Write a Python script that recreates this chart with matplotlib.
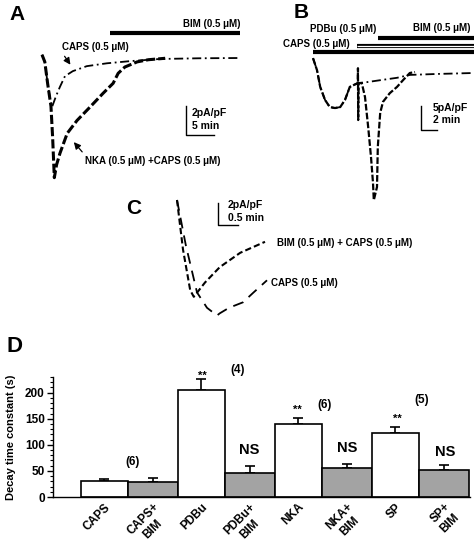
import matplotlib
matplotlib.use("Agg")
import matplotlib.pyplot as plt
import numpy as np

plt.rcParams['font.family'] = ['Liberation Sans', 'DejaVu Sans']
plt.rcParams['font.weight'] = 'bold'

W, H = 474, 549

# ---------------- data ----------------
# Panel A (time in min, current in pA/pF)
tA_caps = [0, 0.5, 1.0, 1.5, 1.8, 2.5, 3.2, 4.1, 5.5, 8.0, 11.6, 15.7, 21.0, 28.0, 35.4]
iA_caps = [0.3, -0.2, -1.7, -2.9, -3.35, -2.6, -1.95, -1.2, -0.85, -0.5, -0.3, -0.15, 0.0, 0.05, 0.07]
tA_nka = [0, 0.5, 1.0, 1.6, 1.9, 2.2, 2.6, 3.2, 4.5, 6.25, 8.6, 10.9, 12.7, 13.6, 14.8, 17.0, 19.0, 22.0]
iA_nka = [0.3, -0.2, -1.7, -3.3, -5.5, -8.3, -7.4, -6.6, -5.2, -4.3, -3.35, -2.4, -1.7, -1.0, -0.56, -0.2, -0.05, 0.05]
A_bim = (12.1, 35.4)

# Panel B
tB_caps = [0, 0.5, 0.9, 1.5, 2.1, 2.75, 3.4, 4.0, 4.6, 5.6, 6.75, 8.4, 10.5, 12.1, 15.5, 20.1]
iB_caps = [3.1, 0.6, -2.9, -5.6, -7.1, -7.3, -7.1, -5.6, -2.9, -2.1, -1.9, -1.5, -1.0, -0.4, -0.2, 0.0]
tB_pdbu = [0, 0.5, 0.9, 1.5, 2.1, 2.75, 3.4, 4.0, 4.6, 5.6, 5.62, 5.65, 5.7, 6.1, 6.5, 6.9,
           7.25, 7.5, 7.6, 8.0, 8.1, 8.4, 8.75, 9.6, 10.5, 11.25, 12.1, 12.75]
iB_pdbu = [3.1, 0.6, -2.9, -5.6, -7.1, -7.3, -7.1, -5.6, -2.9, -2.1, 1.0, -9.8, -2.1, -2.1, -5.0, -11.3,
           -17.5, -22.9, -26.5, -23.75, -15.4, -8.3, -6.0, -4.2, -2.9, -1.5, 0.0, 0.2]
B_caps = (0.0, 20.1)
B_pdbu = (5.5, 20.1)
B_bim = (8.1, 20.1)

# Panel C
tC_bim = [0, 0.15, 0.33, 0.42, 0.7, 1.07, 1.58, 2.2]
iC_bim = [0, -4.5, -8.2, -8.8, -7.5, -6.1, -4.8, -3.8]
tC_caps = [0, 0.22, 0.5, 0.75, 1.0, 1.07, 1.3, 1.65, 1.9, 2.25]
iC_caps = [0, -4.1, -8.4, -9.8, -10.5, -10.3, -9.8, -9.3, -8.45, -7.3]

# Panel D
categories = ['CAPS', 'CAPS+\nBIM', 'PDBu', 'PDBu+\nBIM', 'NKA', 'NKA+\nBIM', 'SP', 'SP+\nBIM']
decay = [31, 29, 206, 46, 140, 55, 122, 52]
decay_err = [3, 7, 21, 13, 12, 9, 13, 10]
n_labels = ['(6)', '(4)', '(6)', '(5)']
sig_labels = ['**', '**', '**']

# ---------------- figure ----------------
fig = plt.figure(figsize=(W / 100, H / 100), dpi=100)


def trace_axes(box, origin, scale):
    left, top, right, bottom = box
    ax = fig.add_axes([left / W, 1 - bottom / H, (right - left) / W, (bottom - top) / H])
    ox, oy = origin
    sx, sy = scale
    ax.set_xlim((left - ox) / sx, (right - ox) / sx)
    ax.set_ylim(-(bottom - oy) / sy, -(top - oy) / sy)
    ax.axis('off')
    return ax


def ftext(x, y, s, size=7, **kw):
    kw.setdefault('ha', 'left')
    kw.setdefault('va', 'center')
    fig.text(x / W, 1 - y / H, s, fontsize=size, fontweight='bold', **kw)


def farrow(x0, y0, x1, y1):
    fig.add_artist(matplotlib.patches.FancyArrowPatch(
        (x0 / W, 1 - y0 / H), (x1 / W, 1 - y1 / H), transform=fig.transFigure,
        arrowstyle='-|>,head_length=4,head_width=2', color='k', lw=0.9))


def scalebar(ax, x, y, dx, dy):
    ax.plot([x, x, x + dx], [y + dy, y, y], color='k', lw=1.0, clip_on=False)


dash_caps = (0, (5, 2, 1, 2))
dash_dense = (0, (3, 1))

# ---- Panel A ----
axA = trace_axes((30, 15, 245, 195), (42, 59), (5.6, 14.3))
axA.plot(tA_caps, iA_caps, color='k', lw=1.3, ls=dash_caps, clip_on=False)
axA.plot(tA_nka, iA_nka, color='k', lw=2.2, ls=dash_dense, clip_on=False)
axA.plot(A_bim, [1.82, 1.82], color='k', lw=3, solid_capstyle='butt', clip_on=False)
scalebar(axA, 25.7, -5.3, 5, 2)
ftext(9, 14, 'A', size=15)
ftext(183, 24, 'BIM (0.5 μM)')
ftext(62, 47, 'CAPS (0.5 μM)')
ftext(85, 161, 'NKA (0.5 μM) +CAPS (0.5 μM)')
ftext(192, 113, '2pA/pF', size=7.5)
ftext(192, 126, '5 min', size=7.5)
farrow(63, 54, 72, 67)
farrow(84, 154, 72, 140)

# ---- Panel B ----
axB = trace_axes((300, 15, 474, 210), (313, 73), (8.0, 4.8))
axB.plot(tB_caps, iB_caps, color='k', lw=1.3, ls=dash_caps, clip_on=False)
axB.plot(tB_pdbu, iB_pdbu, color='k', lw=1.6, ls=dash_dense, clip_on=False)
axB.plot(B_caps, [4.4, 4.4], color='k', lw=3, solid_capstyle='butt', clip_on=False)
axB.plot(B_pdbu, [5.7, 5.7], color='k', lw=3, solid_capstyle='butt', clip_on=False)
axB.plot(B_pdbu, [5.7, 5.7], color='w', lw=0.9, solid_capstyle='butt', clip_on=False)
axB.plot(B_bim, [7.3, 7.3], color='k', lw=3, solid_capstyle='butt', clip_on=False)
scalebar(axB, 13.5, -11.9, 2, 5)
ftext(294, 12, 'B', size=15)
ftext(310, 29, 'PDBu (0.5 μM)')
ftext(413, 28, 'BIM (0.5 μM)')
ftext(283, 44, 'CAPS (0.5 μM)')
ftext(433, 108, '5pA/pF', size=7.5)
ftext(433, 120, '2 min', size=7.5)

# ---- Panel C ----
axC = trace_axes((160, 190, 280, 325), (177, 200), (40.0, 11.0))
axC.plot(tC_caps, iC_caps, color='k', lw=1.3, ls=(0, (6, 4)), clip_on=False)
axC.plot(tC_bim, iC_bim, color='k', lw=1.5, ls=(0, (3, 1.5)), clip_on=False)
scalebar(axC, 1.025, -2.27, 0.5, 2)
ftext(126, 208, 'C', size=15)
ftext(228, 205, '2pA/pF', size=7.5)
ftext(228, 218, '0.5 min', size=7.5)
ftext(277, 243, 'BIM (0.5 μM) + CAPS (0.5 μM)')
ftext(271, 283, 'CAPS (0.5 μM)')

# ---- Panel D ----
axD = fig.add_axes([53 / W, 1 - 497 / H, (470 - 53) / W, 120 / H])
pair = np.arange(len(categories)) // 2
is_gray = np.arange(len(categories)) % 2 == 1
xpos = np.where(is_gray, 2 * pair + 1.48, 2 * pair + 0.48)
widths = np.where(is_gray, 1.04, 0.96)
colors = np.where(is_gray, '#a3a3a3', 'white')
axD.bar(xpos, decay, width=widths, color=colors, edgecolor='k', linewidth=1.2, zorder=2)
axD.errorbar(xpos, decay, yerr=[np.zeros(len(decay)), decay_err], fmt='none',
             ecolor='k', elinewidth=1.2, capsize=3.5, capthick=1.2, zorder=1)
axD.set_xlim(-0.577, 8.02)
axD.set_ylim(0, 230)
axD.spines['top'].set_visible(False)
axD.spines['right'].set_visible(False)
axD.spines['left'].set_linewidth(1.0)
axD.spines['bottom'].set_linewidth(1.0)
axD.set_yticks([0, 50, 100, 150, 200])
axD.set_yticks(np.arange(0, 231, 10), minor=True)
axD.tick_params(axis='y', which='major', direction='out', length=4, width=1, labelsize=8.5, pad=2)
axD.tick_params(axis='y', which='minor', direction='out', length=2, width=0.8)
axD.set_yticklabels(['0', '50', '100', '150', '200'], fontweight='bold')
axD.set_xticks(xpos)
axD.set_xticklabels(categories, rotation=45, ha='right', va='top', rotation_mode='anchor',
                    fontsize=8.5, fontweight='bold', multialignment='center')
axD.tick_params(axis='x', length=0, pad=3)
axD.set_ylabel('Decay time constant (s)', fontsize=8, fontweight='bold', labelpad=6)

# annotations
ann = [(1.07, 67, n_labels[0], 8.5), (2.50, 233, sig_labels[0], 8), (3.22, 244, n_labels[1], 8.5),
       (3.46, 90, 'NS', 10.5), (4.47, 168, sig_labels[1], 8), (5.03, 177, n_labels[2], 8.5),
       (5.48, 94, 'NS', 10.5), (6.52, 149, sig_labels[2], 8), (7.03, 185, n_labels[3], 8.5),
       (7.50, 86, 'NS', 10.5)]
for x, y, s, fs in ann:
    axD.text(x, y, s, ha='center', va='center', fontsize=fs, fontweight='bold', clip_on=False)

ftext(7, 346, 'D', size=16)

fig.savefig('out.png', dpi=100)
